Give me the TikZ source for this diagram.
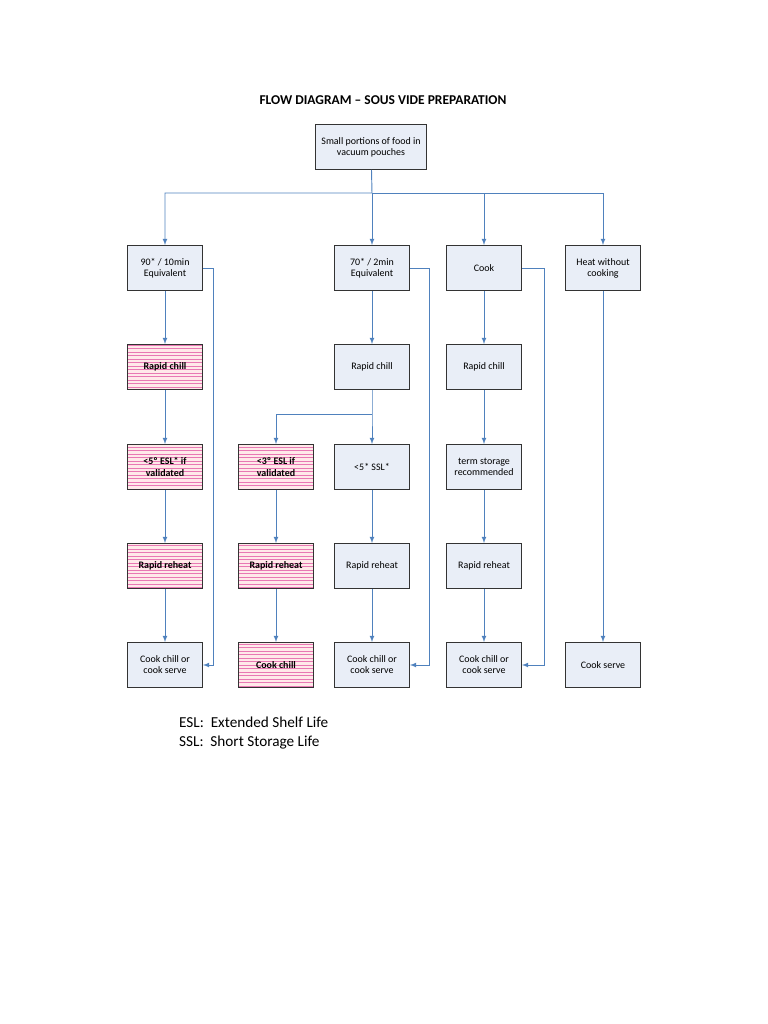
\documentclass[tikz,border=0pt]{standalone}
\usepackage{fontspec}
\setmainfont{Carlito}
\usetikzlibrary{patterns}
\definecolor{linkblue}{RGB}{79,129,189}
\definecolor{boxfill}{RGB}{233,238,247}
\definecolor{stripe}{RGB}{232,120,180}
\begin{document}
\begin{tikzpicture}[x=0.03cm, y=-0.03cm]

\tikzstyle{box} = [rectangle, draw=black!80, thick, fill=boxfill, minimum width=75*0.03cm, minimum height=45*0.03cm, align=center, font=\fontsize{8.5}{9.5}\selectfont, inner sep=1pt]
\tikzstyle{hot} = [box, preaction={fill=pink!35}, pattern=horizontal lines, pattern color=stripe, font=\fontsize{8.5}{9.5}\selectfont\bfseries]
\tikzstyle{flow} = [draw=linkblue, thick, -latex]

\useasboundingbox (0,0) rectangle (768,1024);

\node[font=\fontsize{11.5}{13}\selectfont\bfseries] (title) at (383,100) {FLOW DIAGRAM -- SOUS VIDE PREPARATION};

\node[box, minimum width=111*0.03cm] (top) at (371,147) {Small portions of food in\\vacuum pouches};

\node[box] (a1) at (165,268) {90* / 10min\\Equivalent};
\node[box] (b1) at (372,268) {70* / 2min\\Equivalent};
\node[box] (c1) at (484,268) {Cook};
\node[box] (d1) at (603,268) {Heat without\\cooking};

\node[hot] (a2) at (165,367) {Rapid chill};
\node[box] (b2) at (372,367) {Rapid chill};
\node[box] (c2) at (484,367) {Rapid chill};

\node[hot] (a3) at (165,467) {\textless5º ESL* if\\validated};
\node[hot] (p3) at (276,467) {\textless3º ESL if\\validated};
\node[box] (b3) at (372,467) {\textless5* SSL*};
\node[box] (c3) at (484,467) {term storage\\recommended};

\node[hot] (a4) at (165,566) {Rapid reheat};
\node[hot] (p4) at (276,566) {Rapid reheat};
\node[box] (b4) at (372,566) {Rapid reheat};
\node[box] (c4) at (484,566) {Rapid reheat};

\node[box] (a5) at (165,665) {Cook chill or\\cook serve};
\node[hot] (p5) at (276,665) {Cook chill};
\node[box] (b5) at (372,665) {Cook chill or\\cook serve};
\node[box] (c5) at (484,665) {Cook chill or\\cook serve};
\node[box] (d5) at (603,665) {Cook serve};

\coordinate (fork) at (372,193);
\coordinate (split) at (372,414);

\node[anchor=west, font=\fontsize{13}{15}\selectfont] (esl) at (175,722) {ESL:~ Extended Shelf Life};
\node[anchor=west, font=\fontsize{13}{15}\selectfont] (ssl) at (175,743) {SSL:~ Short Storage Life};

\draw[flow] (top) -- (fork) -| (a1);
\draw[flow] (fork) -- (b1);
\draw[flow] (fork) -| (c1);
\draw[flow] (fork) -| (d1);

\draw[flow] (a1) -- (a2);
\draw[flow] (a2) -- (a3);
\draw[flow] (a3) -- (a4);
\draw[flow] (a4) -- (a5);

\draw[flow] (b1) -- (b2);
\draw[flow] (b2) -- (split) -- (b3);
\draw[flow] (split) -| (p3);
\draw[flow] (p3) -- (p4);
\draw[flow] (p4) -- (p5);
\draw[flow] (b3) -- (b4);
\draw[flow] (b4) -- (b5);

\draw[flow] (c1) -- (c2);
\draw[flow] (c2) -- (c3);
\draw[flow] (c3) -- (c4);
\draw[flow] (c4) -- (c5);

\draw[flow] (d1) -- (d5);

\draw[flow] (a1.east) -- ++(10,0) |- (a5.east);
\draw[flow] (b1.east) -- ++(19,0) |- (b5.east);
\draw[flow] (c1.east) -- ++(22,0) |- (c5.east);
\end{tikzpicture}
\end{document}
